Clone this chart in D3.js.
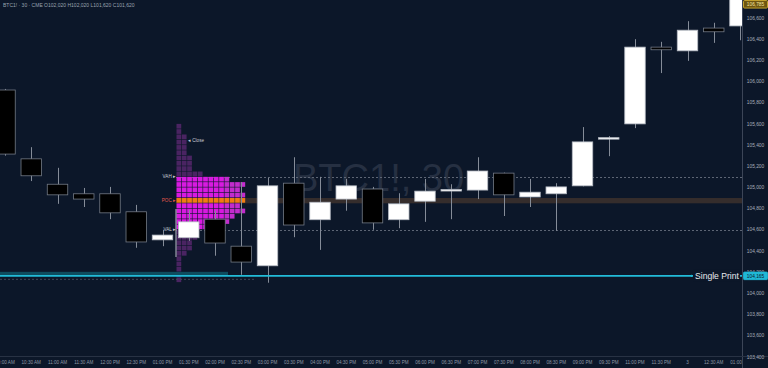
<!DOCTYPE html>
<html>
<head>
<meta charset="utf-8">
<script src="https://cdn.jsdelivr.net/npm/d3@7"></script>
<style>
    html, body { margin: 0; padding: 0; background: #0c1729; overflow: hidden; }
    svg { display: block; font-family: "Liberation Sans", Arial, sans-serif; }
</style>
</head>
<body>
<svg id="chart" width="768" height="368"></svg>
<script>
// 30 min bars, BTC1! CME
var times = ["10:00 AM", "10:30 AM", "11:00 AM", "11:30 AM", "12:00 PM", "12:30 PM", "01:00 PM", "01:30 PM",
    "02:00 PM", "02:30 PM", "03:00 PM", "03:30 PM", "04:00 PM", "04:30 PM", "05:00 PM", "05:30 PM", "06:00 PM",
    "06:30 PM", "07:00 PM", "07:30 PM", "08:00 PM", "08:30 PM", "09:00 PM", "09:30 PM", "11:00 PM", "11:30 PM",
    "3", "12:30 AM", "01:00 AM"];
var opens = [105920, 105270, 105030, 104940, 104940, 104770, 104505, 104525, 104700, 104445, 104260, 105040, 104695,
    104890, 104985, 104695, 104870, 104975, 104975, 105135, 104910, 104940, 105015, 105460, 105600, 106325, 106290,
    106505, 106525];
var highs = [105930, 105380, 105185, 104995, 105005, 104835, 104600, 104785, 104780, 105050, 105090, 105285, 105100,
    105080, 105005, 104945, 105080, 105030, 105285, 105140, 105080, 105040, 105570, 105485, 106400, 106375, 106570,
    106555, 106800];
var lows = [105300, 105060, 104845, 104815, 104700, 104430, 104445, 104495, 104355, 104175, 104100, 104530, 104410,
    104780, 104600, 104615, 104675, 104700, 104890, 104730, 104815, 104590, 105010, 105295, 105560, 106080, 106195,
    106365, 106390];
var closes = [105315, 105110, 104930, 104890, 104760, 104485, 104550, 104675, 104475, 104295, 105015, 104645, 104860,
    105015, 104665, 104845, 104965, 104980, 105155, 104930, 104955, 105005, 105430, 105470, 106325, 106300, 106485,
    106470, 106785];

var priceTicks = [103400, 103600, 103800, 104000, 104200, 104400, 104600, 104800, 105000, 105200, 105400, 105600,
    105800, 106000, 106200, 106400, 106600];

// TPO profile rows (lower edge of each 50 pt row) and their counts
var tpoLevels = [105550, 105500, 105450, 105400, 105350, 105300, 105250, 105200, 105150, 105100, 105050, 105000,
    104950, 104900, 104850, 104800, 104750, 104700, 104650, 104600, 104550, 104500, 104450, 104400, 104350, 104300,
    104250, 104200, 104150, 104100];
var tpoCounts = [1, 1, 2, 2, 2, 2, 3, 3, 3, 5, 10, 13, 12, 13, 13, 12, 13, 11, 10, 8, 4, 4, 3, 3, 2, 1, 1, 1, 1, 1];
var vah = 105100, val = 104600, poc = 104850, profileClose = 105445;
var singlePrint = 104165;
var lastPrice = 106785;

var plotRight = 742, plotBottom = 356;
var svg = d3.select("#chart");

var x = d3.scalePoint().domain(times).range([5, 740]);
var y = d3.scaleLinear().domain([103408, 106770]).range([plotBottom, 0]);
var candleW = x.step() * 0.78;

var fmt = d3.format(",");

svg.append("rect").attr("width", 768).attr("height", 368).attr("fill", "#0c1729");

svg.append("clipPath").attr("id", "plotClip")
    .append("rect").attr("x", 0).attr("y", 0).attr("width", plotRight).attr("height", plotBottom);
svg.append("clipPath").attr("id", "timeClip")
    .append("rect").attr("x", 0).attr("y", plotBottom).attr("width", plotRight).attr("height", 368 - plotBottom);

var plot = svg.append("g").attr("clip-path", "url(#plotClip)");

draw_background();
draw_profile();
draw_candles();
draw_single_print();
draw_axes();
draw_title();

function draw_background() {
    plot.append("text")
        .attr("x", 293)
        .attr("y", 191)
        .text("BTC1!, 30")
        .style("font-size", "38px")
        .style("fill", "#263042");

    // POC band
    plot.append("rect")
        .attr("x", 176)
        .attr("y", y(poc + 50))
        .attr("width", plotRight - 176)
        .attr("height", y(poc) - y(poc + 50))
        .attr("fill", "#352d2c");

    plot.selectAll(".vaLine")
        .data([vah, val])
        .enter()
        .append("line")
        .attr("x1", 176).attr("x2", plotRight)
        .attr("y1", function (d) { return Math.round(y(d)) + 0.5; })
        .attr("y2", function (d) { return Math.round(y(d)) + 0.5; })
        .attr("stroke", "#5d6574")
        .attr("stroke-dasharray", "2,2");
}

function draw_profile() {
    var tx = d3.scaleLinear().domain([0, 13]).range([176.5, 176.5 + 13 * 5.33]);
    var cells = [];
    tpoLevels.forEach(function (lvl, i) {
        for (var c = 0; c < tpoCounts[i]; c++) {
            cells.push({ level: lvl, col: c });
        }
    });

    plot.selectAll(".tpo")
        .data(cells)
        .enter()
        .append("rect")
        .attr("x", function (d) { return tx(d.col); })
        .attr("y", function (d) { return y(d.level + 50); })
        .attr("width", tx(1) - tx(0) - 0.6)
        .attr("height", y(0) - y(50) - 0.6)
        .attr("fill", function (d) {
            if (d.level === poc) return "#f07c12";
            if (d.level >= val && d.level < vah) return d.col > 8 ? "#c22ccc" : "#d81ae0";
            return "#4a2462";
        });

    // initial balance marker
    plot.append("line")
        .attr("x1", 176).attr("x2", 176)
        .attr("y1", 209).attr("y2", 257)
        .attr("stroke", "#b8bec8");

    var labels = [
        { t: "VAH \u25B8", p: vah, c: "#c8ccd4" },
        { t: "POC \u25B8", p: poc + 25, c: "#e2574c" },
        { t: "VAL \u25B8", p: val, c: "#c8ccd4" }
    ];
    plot.selectAll(".vaLabel")
        .data(labels)
        .enter()
        .append("text")
        .attr("x", 176)
        .attr("y", function (d) { return y(d.p) + 1.6; })
        .attr("text-anchor", "end")
        .style("font-size", "4.6px")
        .style("fill", function (d) { return d.c; })
        .text(function (d) { return d.t; });

    plot.append("text")
        .attr("x", 188)
        .attr("y", y(profileClose) + 1.6)
        .style("font-size", "4.6px")
        .style("fill", "#c8ccd4")
        .text("\u25C2 Close");
}

function draw_candles() {
    var bars = times.map(function (t, i) {
        return { t: t, o: opens[i], h: highs[i], l: lows[i], c: closes[i] };
    });

    var g = plot.selectAll(".candle")
        .data(bars)
        .enter()
        .append("g")
        .attr("class", "candle");

    g.append("line")
        .attr("x1", function (d) { return Math.round(x(d.t)) + 0.5; })
        .attr("x2", function (d) { return Math.round(x(d.t)) + 0.5; })
        .attr("y1", function (d) { return y(d.h); })
        .attr("y2", function (d) { return y(d.l); })
        .attr("stroke", "#858c98");

    g.append("rect")
        .attr("x", function (d) { return x(d.t) - candleW / 2; })
        .attr("y", function (d) { return y(Math.max(d.o, d.c)); })
        .attr("width", candleW)
        .attr("height", function (d) { return Math.max(1.5, Math.abs(y(d.o) - y(d.c))); })
        .attr("fill", function (d) { return d.c >= d.o ? "#ffffff" : "#000000"; })
        .attr("stroke", function (d) { return d.c >= d.o ? "#b4b9c2" : "#737a86"; })
        .attr("stroke-width", 0.8);
}

function draw_single_print() {
    var sy = y(singlePrint);
    plot.append("rect")
        .attr("x", 0).attr("y", sy - 4)
        .attr("width", 228).attr("height", 4)
        .attr("fill", "#0e4c5e");
    plot.append("line")
        .attr("x1", 0).attr("x2", 255)
        .attr("y1", sy + 3.5).attr("y2", sy + 3.5)
        .attr("stroke", "#3e4858")
        .attr("stroke-dasharray", "2,2");
    plot.append("line")
        .attr("x1", 0).attr("x2", plotRight)
        .attr("y1", sy).attr("y2", sy)
        .attr("stroke", "#22bcd8")
        .attr("stroke-width", 1.6);

    plot.append("rect")
        .attr("x", 693).attr("y", sy - 6)
        .attr("width", 47).attr("height", 12)
        .attr("fill", "#0c1729");
    plot.append("circle")
        .attr("cx", 691.5).attr("cy", sy)
        .attr("r", 1.1)
        .attr("fill", "#22bcd8");
    plot.append("text")
        .attr("x", 695)
        .attr("y", sy + 3)
        .style("font-size", "8.6px")
        .style("fill", "#e8ebef")
        .text("Single Print");
}

function draw_axes() {
    svg.append("line")
        .attr("x1", plotRight + 0.5).attr("x2", plotRight + 0.5)
        .attr("y1", 0).attr("y2", 368)
        .attr("stroke", "#3c4557");
    svg.append("line")
        .attr("x1", 0).attr("x2", 768)
        .attr("y1", plotBottom + 0.5).attr("y2", plotBottom + 0.5)
        .attr("stroke", "#283244");

    svg.selectAll(".priceLabel")
        .data(priceTicks)
        .enter()
        .append("text")
        .attr("x", 755.5)
        .attr("y", function (d) { return y(d) + 1.7; })
        .attr("text-anchor", "middle")
        .style("font-size", "4.8px")
        .style("fill", "#a9b0bb")
        .text(function (d) { return fmt(d); });

    svg.append("g").attr("clip-path", "url(#timeClip)")
        .selectAll(".timeLabel")
        .data(times)
        .enter()
        .append("text")
        .attr("x", function (d) { return x(d); })
        .attr("y", 364)
        .attr("text-anchor", "middle")
        .style("font-size", "4.6px")
        .style("fill", "#8e97a5")
        .text(function (d) { return d; });

    // price tags
    var tags = [
        { p: singlePrint, fill: "#1fb8d6", stroke: "#1fb8d6", text: "#0c1729" },
        { p: lastPrice, fill: "#6e5610", stroke: "#e3bb33", text: "#f7e6a2" }
    ];
    svg.selectAll(".tag")
        .data(tags)
        .enter()
        .append("rect")
        .attr("x", 743.5)
        .attr("y", function (d) { return Math.max(0.5, y(d.p) - 3.8); })
        .attr("width", 24)
        .attr("height", 7.6)
        .attr("rx", 1)
        .attr("fill", function (d) { return d.fill; })
        .attr("stroke", function (d) { return d.stroke; })
        .attr("stroke-width", 0.8);
    svg.selectAll(".tagText")
        .data(tags)
        .enter()
        .append("text")
        .attr("x", 755.5)
        .attr("y", function (d) { return Math.max(0.5, y(d.p) - 3.8) + 5.5; })
        .attr("text-anchor", "middle")
        .style("font-size", "4.8px")
        .style("fill", function (d) { return d.text; })
        .text(function (d) { return fmt(d.p); });
}

function draw_title() {
    svg.append("text")
        .attr("x", 3)
        .attr("y", 7)
        .style("font-size", "5px")
        .style("fill", "#9aa3b0")
        .text("BTC1! \u00B7 30 \u00B7 CME   O102,020  H102,020  L101,620  C101,620");
}
</script>
</body>
</html>
